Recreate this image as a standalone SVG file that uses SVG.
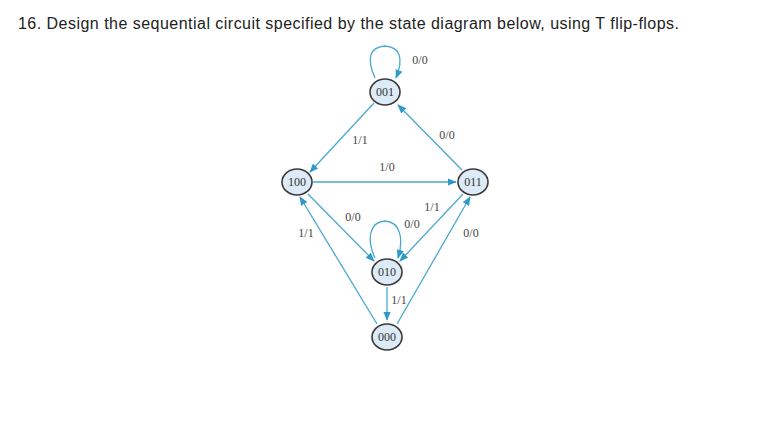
<svg xmlns="http://www.w3.org/2000/svg" width="776" height="426" viewBox="0 0 776 426">
<style>
.n{fill:#dcebf6;stroke:#3a3a3a;stroke-width:1.6}
.nt{font-family:"Liberation Serif",serif;font-size:12px;fill:#333;text-anchor:middle}
.e{fill:none;stroke:#4aa8cf;stroke-width:1.3}
.l{font-family:"Liberation Serif",serif;font-size:12px;fill:#444;text-anchor:middle}
</style>
<defs><marker id="a" viewBox="0 0 10 10" refX="9" refY="5" markerWidth="7" markerHeight="7" orient="auto"><path d="M0,1 L10,5 L0,9 z" fill="#2f9ac8"/></marker></defs>
<rect width="776" height="426" fill="#fff"/>
<text x="18" y="29" font-family="Liberation Sans,Arial,sans-serif" font-size="16" fill="#222" textLength="661">16. Design the sequential circuit specified by the state diagram below, using T flip-flops.</text>
<g id="edges">
<path class="e" d="M375,78 C366,58 370,47 385,46 C400,47 404,58 396,78" marker-end="url(#a)"/>
<path class="e" d="M375,258 C366,238 370,222 385,221 C400,222 404,238 398,258" marker-end="url(#a)"/>
<path class="e" d="M374,103 L310,172" marker-end="url(#a)"/>
<path class="e" d="M462,170 L398,105" marker-end="url(#a)"/>
<path class="e" d="M313,182 L456,182" marker-end="url(#a)"/>
<path class="e" d="M308,194 L374,261" marker-end="url(#a)"/>
<path class="e" d="M463,194 L400,261" marker-end="url(#a)"/>
<path class="e" d="M377,324 L300,197" marker-end="url(#a)"/>
<path class="e" d="M397,324 L470,197" marker-end="url(#a)"/>
<path class="e" d="M387,287 L387,320" marker-end="url(#a)"/>
</g>
<g id="labels">
<text class="l" x="420" y="64">0/0</text>
<text class="l" x="360" y="144">1/1</text>
<text class="l" x="447" y="139">0/0</text>
<text class="l" x="387" y="171">1/0</text>
<text class="l" x="432" y="211">1/1</text>
<text class="l" x="353" y="221">0/0</text>
<text class="l" x="412" y="228">0/0</text>
<text class="l" x="306" y="237">1/1</text>
<text class="l" x="471" y="237">0/0</text>
<text class="l" x="399" y="304">1/1</text>
</g>
<g id="s001"><ellipse class="n" cx="385" cy="92" rx="15" ry="13"/><text class="nt" x="385" y="96">001</text></g>
<g id="s100"><ellipse class="n" cx="297" cy="182" rx="15" ry="13"/><text class="nt" x="297" y="186">100</text></g>
<g id="s011"><ellipse class="n" cx="473" cy="182" rx="15" ry="13"/><text class="nt" x="473" y="186">011</text></g>
<g id="s010"><ellipse class="n" cx="387" cy="272" rx="15" ry="13"/><text class="nt" x="387" y="276">010</text></g>
<g id="s000"><ellipse class="n" cx="387" cy="337" rx="15" ry="13"/><text class="nt" x="387" y="341">000</text></g>
</svg>
